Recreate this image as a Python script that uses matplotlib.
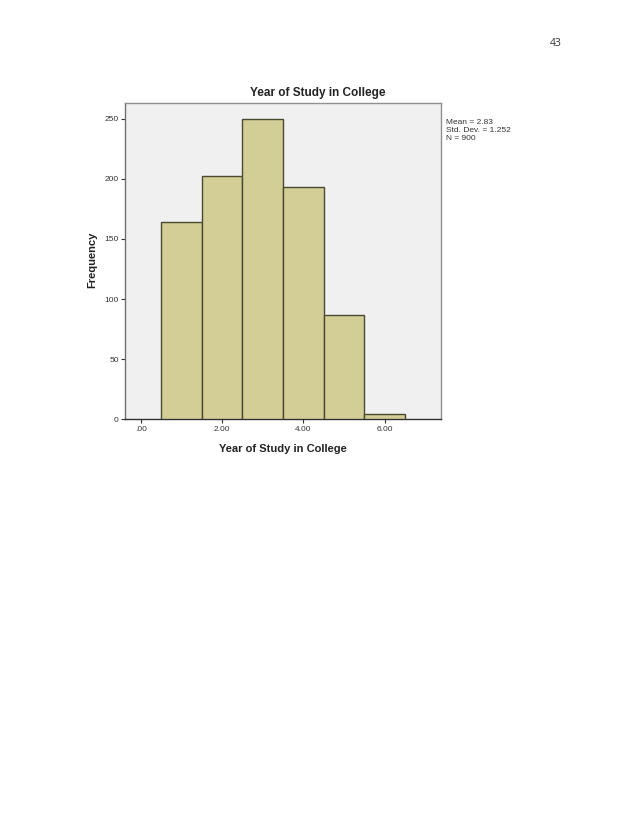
import matplotlib
matplotlib.use("Agg")
import matplotlib.pyplot as plt

plt.rcParams['font.family'] = ['Liberation Sans', 'DejaVu Sans']

bin_edges = [0.5, 1.5, 2.5, 3.5, 4.5, 5.5, 6.5]
counts = [164, 202, 250, 193, 87, 4]
xticks = [0, 2, 4, 6]
xtick_labels = [".00", "2.00", "4.00", "6.00"]
yticks = [0, 50, 100, 150, 200, 250]
stats_lines = ["Mean = 2.83", "Std. Dev. = 1.252", "N = 900"]
title = "Year of Study in College"
xlabel = "Year of Study in College"
ylabel = "Frequency"
page_number = "43"

W, H = 638, 826
fig = plt.figure(figsize=(W / 100, H / 100), dpi=100)
fig.patch.set_facecolor("white")

left, right, top, bottom = 125, 440.7, 102.7, 419.3
ax = fig.add_axes([left / W, 1 - bottom / H, (right - left) / W, (bottom - top) / H])
ax.set_facecolor("#F0F0F0")

widths = [bin_edges[i + 1] - bin_edges[i] for i in range(len(counts))]
ax.bar(bin_edges[:-1], counts, width=widths, align="edge",
       color="#D3CD96", edgecolor="#4B4A30", linewidth=1.0, zorder=3)

ax.set_xlim(-0.39, 7.38)
ax.set_ylim(0, 263.3)
ax.set_xticks(xticks)
ax.set_xticklabels(xtick_labels)
ax.set_yticks(yticks)
ax.tick_params(axis="both", direction="out", length=3, width=0.8,
               labelsize=6, colors="#333333", pad=1.5)
for s in ["top", "right"]:
    ax.spines[s].set_color("#909090")
    ax.spines[s].set_linewidth(1.0)
ax.spines["left"].set_color("#707070")
ax.spines["bottom"].set_color("#303030")
ax.spines["left"].set_linewidth(1.0)
ax.spines["bottom"].set_linewidth(1.0)

fig.text(318 / W, 1 - 93 / H, title, ha="center", va="center",
         fontsize=8.5, fontweight="bold", color="#222222")
fig.text(283 / W, 1 - 449 / H, xlabel, ha="center", va="center",
         fontsize=8, fontweight="bold", color="#222222")
fig.text(92 / W, 1 - 260 / H, ylabel, ha="center", va="center",
         rotation=90, fontsize=8, fontweight="bold", color="#222222")

fig.text(446 / W, 1 - 119 / H, "\n".join(stats_lines), ha="left", va="top",
         fontsize=6, color="#333333", linespacing=1.2)

fig.text(556 / W, 1 - 43 / H, page_number, ha="center", va="center",
         fontsize=7.5, color="#333333", family=["Open Sans", "DejaVu Sans"])

fig.savefig("out.png", dpi=100)
